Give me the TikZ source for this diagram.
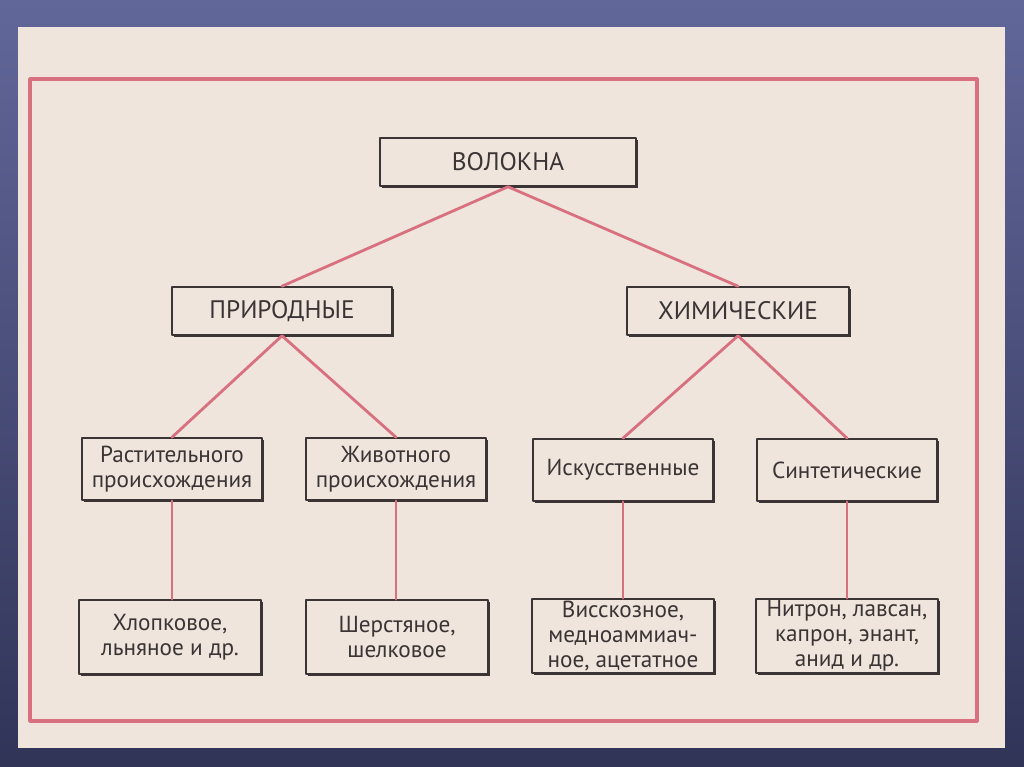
\documentclass[tikz,border=0pt]{standalone}
\usepackage{fontspec}
\setmainfont{PT Sans}
\usetikzlibrary{shadows}
\definecolor{slidetop}{HTML}{62679A}
\definecolor{slidebot}{HTML}{303457}
\definecolor{paper}{HTML}{EFE5DD}
\definecolor{redline}{HTML}{D8707F}
\definecolor{ink}{HTML}{3A3434}
\tikzset{
  box/.style={draw=ink, line width=1.1pt, fill=paper, text=ink, align=center,
    inner sep=0.5pt, drop shadow={shadow xshift=1.5pt, shadow yshift=-1.7pt, fill=ink, opacity=1}},
  headbox/.style={box, minimum height=1.2cm, font=\fontsize{18}{20}\selectfont},
  kindbox/.style={box, minimum width=4.5cm, minimum height=1.55cm, font=\fontsize{16.5}{18}\selectfont},
  fibrebox/.style={box, minimum width=4.55cm, minimum height=1.85cm, font=\fontsize{16.5}{17.8}\selectfont},
  link/.style={draw=redline, line width=2pt}
}
\begin{document}
\begin{tikzpicture}[x=0.025cm, y=-0.025cm, line join=round, line cap=round]
  % slide and paper
  \shade[top color=slidetop, bottom color=slidebot] (0,0) rectangle (1024,767);
  \fill[paper] (18,27) rectangle (1005,748);
  \draw[redline, line width=2.2pt] (30,79) rectangle (977,721);

  % levels
  \node[headbox, minimum width=6.4cm] (volokna) at (508,162) {ВОЛОКНА};
  \node[headbox, minimum width=5.5cm] (prirod) at (282,311) {ПРИРОДНЫЕ};
  \node[headbox, minimum width=5.55cm] (khim) at (738,311) {ХИМИЧЕСКИЕ};

  \node[kindbox] (rast) at (172,469) {Растительного\\происхождения};
  \node[kindbox] (zhiv) at (396,469) {Животного\\происхождения};
  \node[kindbox] (iskus) at (623,470) {Искусственные};
  \node[kindbox] (sintet) at (847,470) {Синтетические};

  \node[fibrebox] (khlop) at (170,637) {Хлопковое,\\льняное и др.};
  \node[fibrebox] (sherst) at (397,637) {Шерстяное,\\шелковое};
  \node[fibrebox] (viskoz) at (623,636) {Висскозное,\\медноаммиач-\\ное, ацетатное};
  \node[fibrebox] (nitron) at (847,636) {Нитрон, лавсан,\\капрон, энант,\\анид и др.};

  % connectors
  \draw[link] (volokna.south) -- (prirod.north);
  \draw[link] (volokna.south) -- (khim.north);
  \draw[link] (prirod.south) -- (rast.north);
  \draw[link] (prirod.south) -- (zhiv.north);
  \draw[link] (khim.south) -- (iskus.north);
  \draw[link] (khim.south) -- (sintet.north);
  \draw[link] (rast.south) -- (rast.south |- khlop.north);
  \draw[link] (zhiv.south) -- (zhiv.south |- sherst.north);
  \draw[link] (iskus.south) -- (iskus.south |- viskoz.north);
  \draw[link] (sintet.south) -- (sintet.south |- nitron.north);
\end{tikzpicture}
\end{document}
